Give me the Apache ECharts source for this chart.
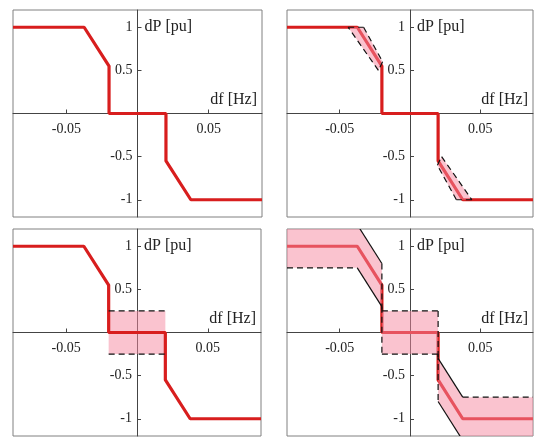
<!DOCTYPE html>
<html><head><meta charset="utf-8">
<script src="https://cdn.jsdelivr.net/npm/echarts@6/dist/echarts.min.js"></script>
<style>html,body{margin:0;padding:0;background:#fff}#c{width:550px;height:448px}</style>
</head><body><div id="c"></div>
<script>
// ---- data ----
const xTicks = [-0.05, 0.05];
const yTicks = [-1, -0.5, 0.5, 1];
const xRange = [-0.0875, 0.0875];
const yRange = [-1.2, 1.2];

// nominal droop characteristic (all panels)
const droopX = [-0.0875, -0.0375, -0.02, -0.02, 0.02, 0.02, 0.0375, 0.0875];
const droopY = [1, 1, 0.55, 0, 0, -0.55, -1, -1];

// panel 2: slope uncertainty bands
const slopeBandUpX = [-0.044, -0.033, -0.0195, -0.0225];
const slopeBandUpY = [1, 1, 0.6, 0.5];
const slopeBandLoX = [0.044, 0.033, 0.0195, 0.0225];
const slopeBandLoY = [-1, -1, -0.6, -0.5];

// panel 3: dead-band box
const deadBandX = [-0.02, 0.02, 0.02, -0.02];
const deadBandY = [0.25, 0.25, -0.25, -0.25];
const deadBandTopX = [-0.02, 0.02], deadBandTopY = [0.25, 0.25];
const deadBandBotX = [-0.02, 0.02], deadBandBotY = [-0.25, -0.25];

// panel 4: envelope
const envX = [-0.0875, -0.0375, -0.02, -0.02, 0.02, 0.02, 0.0375, 0.0875];
const envUpY = [1.25, 1.25, 0.8, 0.25, 0.25, -0.3, -0.75, -0.75];
const envLoY = [0.75, 0.75, 0.3, -0.25, -0.25, -0.8, -1.25, -1.25];

// ---- layout ----
const FONT = "'Liberation Serif', 'Times New Roman', serif";
const RED = '#d81e1e';
const FILL = 'rgba(245,135,160,0.5)';
const grids = [
  {left: 13, top: 10, width: 249, height: 207},
  {left: 287, top: 10, width: 246, height: 207},
  {left: 13, top: 229, width: 248, height: 207},
  {left: 287, top: 229, width: 246, height: 207}
];

const zip = (xs, ys) => xs.map((x, i) => [x, ys[i]]);

function clipRect(params) {
  const cs = params.coordSys;
  return {type: 'rect', shape: {x: cs.x, y: cs.y, width: cs.width, height: cs.height}};
}

function polySeries(idx, pts, z) {
  return {
    type: 'custom', xAxisIndex: idx, yAxisIndex: idx, z: z, silent: true, data: pts,
    renderItem(params, api) {
      if (params.dataIndex !== 0) return null;
      const points = pts.map(p => api.coord(p));
      return {type: 'polygon', shape: {points: points}, style: {fill: FILL}, clipPath: clipRect(params)};
    }
  };
}

function outlineSeries(idx, pts, closed, solidDiag, z) {
  return {
    type: 'custom', xAxisIndex: idx, yAxisIndex: idx, z: z, silent: true, data: pts,
    renderItem(params, api) {
      if (params.dataIndex !== 0) return null;
      const c = pts.map(p => api.coord(p));
      const n = closed ? pts.length : pts.length - 1;
      const children = [];
      for (let i = 0; i < n; i++) {
        const j = (i + 1) % pts.length;
        const diag = pts[i][0] !== pts[j][0] && pts[i][1] !== pts[j][1];
        children.push({
          type: 'line',
          shape: {x1: c[i][0], y1: c[i][1], x2: c[j][0], y2: c[j][1]},
          style: {stroke: '#111', lineWidth: 1.2, lineDash: (diag && solidDiag) ? null : [6, 4]}
        });
      }
      return {type: 'group', children: children, clipPath: clipRect(params)};
    }
  };
}

function droopSeries(idx) {
  return {
    type: 'line', xAxisIndex: idx, yAxisIndex: idx, z: 3, silent: true,
    data: zip(droopX, droopY), symbol: 'none', animation: false,
    lineStyle: {color: RED, width: 3.2}
  };
}

function xAx(i) {
  return {
    type: 'value', gridIndex: i, min: xRange[0], max: xRange[1],
    position: 'bottom', offset: -grids[i].height / 2,
    name: 'df [Hz]', nameLocation: 'end', nameGap: -5, nameMoveOverlap: false,
    nameTextStyle: {fontFamily: FONT, fontSize: 16, color: '#222', align: 'right', verticalAlign: 'bottom', padding: [0, 0, 6, 0]},
    axisLine: {onZero: false, lineStyle: {color: '#444', width: 1}},
    axisTick: {inside: true, length: 4, customValues: xTicks, lineStyle: {color: '#444'}},
    axisLabel: {customValues: xTicks, fontFamily: FONT, fontSize: 14, color: '#222', margin: 9},
    splitLine: {show: false}
  };
}
function yAx(i) {
  return {
    type: 'value', gridIndex: i, min: yRange[0], max: yRange[1],
    position: 'left', offset: -grids[i].width / 2,
    name: 'dP [pu]', nameLocation: 'end', nameGap: -17, nameMoveOverlap: false,
    nameTextStyle: {fontFamily: FONT, fontSize: 16, color: '#222', align: 'left', verticalAlign: 'middle', padding: [0, 0, 0, 7]},
    axisLine: {onZero: false, lineStyle: {color: '#444', width: 1}},
    axisTick: {inside: true, length: 4, customValues: yTicks, lineStyle: {color: '#444'}},
    axisLabel: {customValues: yTicks, fontFamily: FONT, fontSize: 14, color: '#222', margin: 5},
    splitLine: {show: false}
  };
}
function grid(g) {
  return Object.assign({show: true, borderColor: '#808080', borderWidth: 1,
    backgroundColor: 'transparent', containLabel: false, outerBoundsMode: 'none'}, g);
}

const envPoly = zip(envX, envUpY).concat(zip(envX, envLoY).reverse());

const option = {
  animation: false,
  backgroundColor: '#fff',
  grid: grids.map(grid),
  xAxis: [xAx(0), xAx(1), xAx(2), xAx(3)],
  yAxis: [yAx(0), yAx(1), yAx(2), yAx(3)],
  series: [
    droopSeries(0),
    // panel 2
    droopSeries(1),
    polySeries(1, zip(slopeBandUpX, slopeBandUpY), 4),
    polySeries(1, zip(slopeBandLoX, slopeBandLoY), 4),
    outlineSeries(1, zip(slopeBandUpX, slopeBandUpY), true, false, 5),
    outlineSeries(1, zip(slopeBandLoX, slopeBandLoY), true, false, 5),
    // panel 3
    polySeries(2, zip(deadBandX, deadBandY), 1),
    droopSeries(2),
    outlineSeries(2, zip(deadBandTopX, deadBandTopY), false, false, 5),
    outlineSeries(2, zip(deadBandBotX, deadBandBotY), false, false, 5),
    // panel 4
    droopSeries(3),
    polySeries(3, envPoly, 4),
    outlineSeries(3, zip(envX, envUpY), false, true, 5),
    outlineSeries(3, zip(envX, envLoY), false, true, 5)
  ]
};
const chart = echarts.init(document.getElementById('c'), null, {renderer: 'canvas'});
chart.setOption(option);
</script></body></html>
